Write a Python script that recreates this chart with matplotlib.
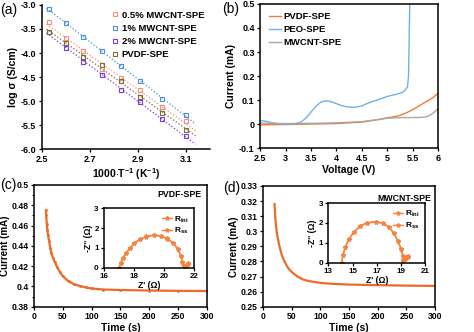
import matplotlib
matplotlib.use("Agg")
import matplotlib.pyplot as plt
from matplotlib.ticker import FuncFormatter, MultipleLocator
import numpy as np

plt.rcParams['font.family'] = ['Liberation Sans', 'DejaVu Sans']
plt.rcParams['font.weight'] = 'bold'
plt.rcParams['axes.labelweight'] = 'bold'
plt.rcParams['mathtext.fontset'] = 'custom'
plt.rcParams['mathtext.rm'] = 'Liberation Sans:bold'
plt.rcParams['mathtext.bf'] = 'Liberation Sans:bold'
plt.rcParams['mathtext.it'] = 'Liberation Sans:bold'

# (a) Arrhenius data
inv_T = [2.53, 2.60, 2.67, 2.75, 2.83, 2.91, 3.00, 3.10]
arr_labels = ["0.5% MWCNT-SPE", "1% MWCNT-SPE", "2% MWCNT-SPE", "PVDF-SPE"]
log_s_05 = [-3.35, -3.68, -3.95, -4.33, -4.53, -4.77, -5.13, -5.42]
log_s_1 = [-3.08, -3.375, -3.67, -3.96, -4.28, -4.59, -4.95, -5.29]
log_s_2 = [-3.57, -3.89, -4.18, -4.46, -4.77, -5.03, -5.37, -5.73]
log_s_pvdf = [-3.56, -3.80, -4.08, -4.24, -4.58, -4.91, -5.24, -5.60]
arr_colors = ["#F4907A", "#4A8FE0", "#7A3CE0", "#7E6A35"]

# (b) LSV data
v_peo = [2.5, 2.6, 2.7, 2.8, 2.9, 3.0, 3.1, 3.2, 3.3, 3.4, 3.5, 3.6, 3.7, 3.8, 3.9,
         4.0, 4.1, 4.2, 4.3, 4.4, 4.5, 4.6, 4.7, 4.8, 4.9, 5.0, 5.1, 5.2, 5.3, 5.35,
         5.4, 5.42, 5.43, 5.44, 5.45]
i_peo = [0.015, 0.012, 0.007, 0.003, 0.001, 0.0, 0.0, 0.002, 0.008, 0.025, 0.05,
         0.075, 0.092, 0.097, 0.093, 0.085, 0.077, 0.072, 0.070, 0.071, 0.076, 0.085,
         0.093, 0.100, 0.107, 0.115, 0.120, 0.125, 0.132, 0.140, 0.155, 0.20, 0.32,
         0.45, 0.55]
v_pvdf = [2.5, 3.0, 3.5, 4.0, 4.5, 4.8, 5.0, 5.2, 5.3, 5.4, 5.5, 5.6, 5.7, 5.8, 5.9, 6.0]
i_pvdf = [-0.003, -0.002, 0.0, 0.002, 0.008, 0.018, 0.026, 0.033, 0.04, 0.049, 0.06,
          0.072, 0.085, 0.097, 0.11, 0.128]
v_mw = [2.5, 3.0, 3.5, 4.0, 4.5, 4.8, 5.0, 5.3, 5.5, 5.7, 5.8, 5.9, 6.0]
i_mw = [0.004, 0.002, 0.003, 0.005, 0.01, 0.018, 0.024, 0.027, 0.027, 0.028, 0.032,
        0.045, 0.063]

# (c) PVDF-SPE chronoamperometry
t_c = [20.5, 21, 22, 23, 24, 26, 28, 30, 33, 36, 40, 45, 50, 60, 70, 80, 90, 100,
       120, 150, 200, 250, 300]
i_c = [0.475, 0.470, 0.462, 0.456, 0.451, 0.445, 0.438, 0.433, 0.428, 0.424, 0.419,
       0.414, 0.410, 0.405, 0.402, 0.4005, 0.399, 0.398, 0.397, 0.3965, 0.396, 0.3957,
       0.3955]
zr_c = [17.0, 17.1, 17.25, 17.45, 17.7, 18.0, 18.4, 18.8, 19.3, 19.8, 20.2, 20.6,
        20.9, 21.1, 21.2, 21.3, 21.35, 21.45, 21.55]
zi_c_ini = [0.0, 0.25, 0.5, 0.75, 1.0, 1.25, 1.45, 1.58, 1.65, 1.6, 1.48, 1.25, 0.95,
            0.6, 0.3, 0.1, 0.05, 0.1, 0.2]
zi_c_ss = [0.0, 0.22, 0.48, 0.72, 0.98, 1.23, 1.44, 1.57, 1.64, 1.59, 1.47, 1.23,
           0.93, 0.58, 0.28, 0.08, 0.1, 0.15, 0.22]

# (d) MWCNT-SPE chronoamperometry
t_d = [20, 21, 22, 23, 24, 26, 28, 30, 33, 36, 40, 45, 50, 60, 70, 80, 100, 120, 150,
       200, 250, 300]
i_d = [0.318, 0.311, 0.306, 0.302, 0.299, 0.295, 0.291, 0.288, 0.284, 0.281, 0.278,
       0.275, 0.273, 0.270, 0.268, 0.267, 0.2658, 0.2652, 0.2647, 0.2643, 0.264, 0.2638]
zr_d = [14.1, 14.2, 14.4, 14.7, 15.1, 15.6, 16.2, 16.9, 17.5, 18.0, 18.4, 18.75, 19.0,
        19.15, 19.2, 19.3, 19.45, 19.6]
zi_d_ini = [0.0, 0.4, 0.8, 1.2, 1.55, 1.85, 2.02, 2.07, 2.0, 1.8, 1.5, 1.1, 0.7, 0.35,
            0.1, 0.2, 0.25, 0.3]
zi_d_ss = [0.0, 0.38, 0.78, 1.18, 1.53, 1.83, 2.0, 2.05, 1.98, 1.78, 1.48, 1.08, 0.68,
           0.33, 0.15, 0.25, 0.3, 0.33]

orange = "#EE6A2A"
inset_orange = "#F4843F"
gfmt = FuncFormatter(lambda v, p: f"{v:g}")
TICK = 6.5
LAB = 7.5
LEG = 6.8


def style(ax, fs=TICK, sides=("left", "bottom", "right", "top")):
    for s in ax.spines:
        ax.spines[s].set_visible(s in sides)
        ax.spines[s].set_linewidth(1.1)
    ax.tick_params(labelsize=fs, width=0.9, length=2.5, direction='out', pad=1.5)


fig = plt.figure(figsize=(4.74, 3.32), dpi=100)

# ---- (a)
ax = fig.add_axes([0.088, 0.551, 0.355, 0.434])
series = [log_s_05, log_s_1, log_s_2, log_s_pvdf]
xx = np.array([2.52, 3.14])
for ys, lab, c in zip(series, arr_labels, arr_colors):
    k, b0 = np.polyfit(inv_T, ys, 1)
    ax.plot(xx, k * xx + b0, ':', color=c, lw=0.9)
    ax.plot(inv_T, ys, 's', mfc='none', mec=c, ms=3.2, mew=0.8, label=lab)
ax.set_xlim(2.5, 3.2)
ax.set_ylim(-6.0, -3.0)
ax.set_xticks([2.5, 2.7, 2.9, 3.1])
ax.set_yticks(np.arange(-6.0, -2.99, 0.5))
ax.xaxis.set_major_formatter(FuncFormatter(lambda v, p: f"{v:.1f}"))
ax.yaxis.set_major_formatter(FuncFormatter(lambda v, p: f"{v:.1f}"))
style(ax, sides=("left", "bottom"))
ax.set_xlabel(r"1000$\cdot$T$^{-1}$ (K$^{-1}$)", fontsize=LAB, labelpad=2)
ax.set_ylabel("log σ (S/cm)", fontsize=LAB, labelpad=2)
ax.legend(loc='upper right', fontsize=LEG, frameon=False, handlelength=0.8,
          handletextpad=0.3, labelspacing=0.45, borderaxespad=0.2)

# ---- (b)
ax = fig.add_axes([0.549, 0.554, 0.375, 0.434])
ax.plot(v_pvdf, i_pvdf, color="#F07A3A", lw=1.0, label="PVDF-SPE")
ax.plot(v_peo, i_peo, color="#6EB2E6", lw=1.0, label="PEO-SPE")
ax.plot(v_mw, i_mw, color="#A8A8A8", lw=1.0, label="MWCNT-SPE")
ax.set_xlim(2.5, 6.0)
ax.set_ylim(-0.1, 0.5)
ax.set_xticks(np.arange(2.5, 6.01, 0.5))
ax.set_yticks(np.arange(-0.1, 0.51, 0.1))
ax.xaxis.set_major_formatter(gfmt)
ax.yaxis.set_major_formatter(FuncFormatter(lambda v, p: f"{round(v, 2):g}"))
style(ax)
ax.set_xlabel("Voltage (V)", fontsize=LAB, labelpad=2)
ax.set_ylabel("Current (mA)", fontsize=LAB, labelpad=2)
ax.legend(loc='upper left', fontsize=LEG, frameon=False, handlelength=1.3,
          handletextpad=0.2, labelspacing=0.4, borderaxespad=0.5)

# ---- (c)
ax = fig.add_axes([0.072, 0.076, 0.364, 0.367])
ax.plot(t_c, i_c, color=orange, lw=1.6, marker='.', ms=2)
ax.set_xlim(0, 300)
ax.set_ylim(0.38, 0.5)
ax.set_xticks(np.arange(0, 301, 50))
ax.set_yticks(np.arange(0.38, 0.501, 0.02))
ax.yaxis.set_minor_locator(MultipleLocator(0.01))
ax.yaxis.set_major_formatter(FuncFormatter(lambda v, p: f"{round(v, 2):g}"))
style(ax, fs=6.2)
ax.tick_params(which='minor', length=1.5, width=0.7)
ax.set_xlabel("Time (s)", fontsize=LAB, labelpad=1.5)
ax.set_ylabel("Current (mA)", fontsize=7, labelpad=1)
ax.text(0.845, 0.925, "PVDF-SPE", transform=ax.transAxes, fontsize=6.3,
        ha='center', va='center')

ins = fig.add_axes([0.220, 0.194, 0.190, 0.178])
ins.plot(zr_c, zi_c_ini, color=inset_orange, lw=1.0, marker='*', ms=3,
         label=r"$\mathbf{R_{ini}}$")
ins.plot(zr_c, zi_c_ss, color=inset_orange, lw=1.0, marker='*', ms=3,
         label=r"$\mathbf{R_{ss}}$")
ins.set_xlim(16, 22)
ins.set_ylim(0, 3)
ins.set_xticks([16, 18, 20, 22])
ins.set_yticks([0, 1, 2, 3])
style(ins, fs=5.8)
ins.set_xlabel("Z' (Ω)", fontsize=6.2, labelpad=0.5)
ins.set_ylabel("-Z'' (Ω)", fontsize=6.2, labelpad=1)
ins.legend(loc='upper right', fontsize=6, frameon=False, handlelength=1.2,
           handletextpad=0.2, labelspacing=0.15, borderaxespad=0.3)

# ---- (d)
ax = fig.add_axes([0.555, 0.076, 0.363, 0.364])
ax.plot(t_d, i_d, color=orange, lw=1.6)
ax.set_xlim(0, 300)
ax.set_ylim(0.25, 0.33)
ax.set_xticks(np.arange(0, 301, 50))
ax.set_yticks(np.arange(0.25, 0.331, 0.01))
ax.yaxis.set_major_formatter(FuncFormatter(lambda v, p: f"{round(v, 2):g}"))
style(ax, fs=6.2)
ax.set_xlabel("Time (s)", fontsize=LAB, labelpad=1.5)
ax.set_ylabel("Current (mA)", fontsize=7, labelpad=1)
ax.text(0.82, 0.90, "MWCNT-SPE", transform=ax.transAxes, fontsize=6.3,
        ha='center', va='center')

ins = fig.add_axes([0.693, 0.209, 0.204, 0.179])
ins.plot(zr_d, zi_d_ini, color=inset_orange, lw=1.0, marker='*', ms=3,
         label=r"$\mathbf{R_{ini}}$")
ins.plot(zr_d, zi_d_ss, color=inset_orange, lw=1.0, marker='*', ms=3,
         label=r"$\mathbf{R_{ss}}$")
ins.set_xlim(13, 21)
ins.set_ylim(0, 3)
ins.set_xticks([13, 15, 17, 19, 21])
ins.set_yticks([0, 1, 2, 3])
style(ins, fs=5.8)
ins.set_xlabel("Z' (Ω)", fontsize=6.2, labelpad=0.5)
ins.set_ylabel("-Z'' (Ω)", fontsize=6.2, labelpad=1)
ins.legend(loc='upper right', fontsize=6, frameon=False, handlelength=1.2,
           handletextpad=0.2, labelspacing=0.15, borderaxespad=0.3)

# panel letters
for x, y, s in [(0.0, 0.97, "(a)"), (0.468, 0.972, "(b)"),
                (0.0, 0.443, "(c)"), (0.470, 0.434, "(d)")]:
    fig.text(x, y, s, fontsize=10, fontweight='normal', va='center', ha='left')

fig.savefig("out.png", dpi=100)
